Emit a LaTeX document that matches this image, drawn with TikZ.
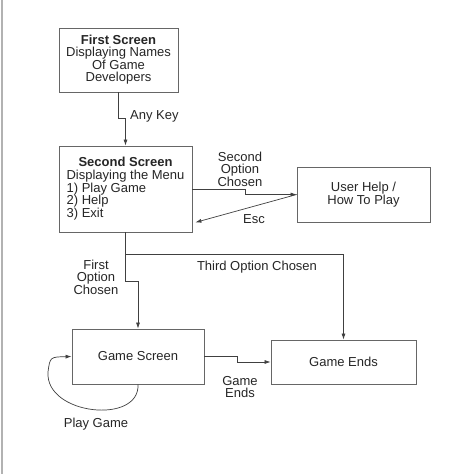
\documentclass[tikz,border=0pt]{standalone}
\usepackage{fontspec}
\setmainfont{Liberation Sans}
\usepackage{tikz}
\usetikzlibrary{arrows.meta}

\begin{document}
\begin{tikzpicture}[x=1pt, y=-1pt,
	every node/.style={font=\fontsize{13}{12}\selectfont, text=black!85},
	box/.style={draw=black!60, line width=0.8pt, align=center, inner sep=0pt},
	arr/.style={draw=black!75, line width=0.7pt, -{Latex[length=6pt,width=4pt]}},
	lbl/.style={align=center, inner sep=0pt}]
	\useasboundingbox (0,0) rectangle (474,474);
	\fill[white] (0,0) rectangle (474,474);
	\draw[black!30, line width=1.5pt] (2,0) -- (2,474);
	% the screens
	\node[box, minimum width=119, minimum height=64] (first) at (118.5,60) {\textbf{First Screen}\\Displaying Names\\Of Game\\Developers};
	\node[box, minimum width=133, minimum height=86] (second) at (125.5,189) {\renewcommand{\arraystretch}{0.92}\begin{tabular}{@{}l@{}}\multicolumn{1}{@{}c@{}}{\textbf{Second Screen}}\\Displaying the Menu\\1) Play Game\\2) Help\\3) Exit\end{tabular}};
	\node[box, minimum width=133, minimum height=55] (help) at (363.5,194.5) {User Help /\\How To Play};
	\node[box, minimum width=132, minimum height=55] (game) at (138,356.5) {Game Screen};
	\node[box, minimum width=145, minimum height=44] (ends) at (343.5,362) {Game Ends};
	% transitions
	\draw[arr] (first.south) -- ++(0,26) -| (second.north);
	\draw[arr] (second.east) -- ++(53,0) |- (help.west);
	\draw[arr] (help.west) -- ([shift={(3,-10)}]second.south east);
	\draw[arr] (second.south) -- ++(0,22) coordinate (split) -| (ends.north);
	\draw[arr] (split) -- ++(0,27) -| (game.north);
	\draw[arr] (game.east) -- ++(33,0) |- (ends.west);
	\draw[arr] (game.south) .. controls (140,425) and (45,415) .. (48,372) .. controls (50,357) .. (game.west);
	% labels
	\node[lbl, anchor=west] (anykey) at (130,116) {Any Key};
	\node[lbl] (secondopt) at (240,169) {Second\\Option\\Chosen};
	\node[lbl] (esc) at (254,219) {Esc};
	\node[lbl] (firstopt) at (96,277) {First\\Option\\Chosen};
	\node[lbl] (thirdopt) at (257,267) {Third Option Chosen};
	\node[lbl] (gameends) at (240,387) {Game\\Ends};
	\node[lbl] (playgame) at (96,424) {Play Game};
\end{tikzpicture}
\end{document}
